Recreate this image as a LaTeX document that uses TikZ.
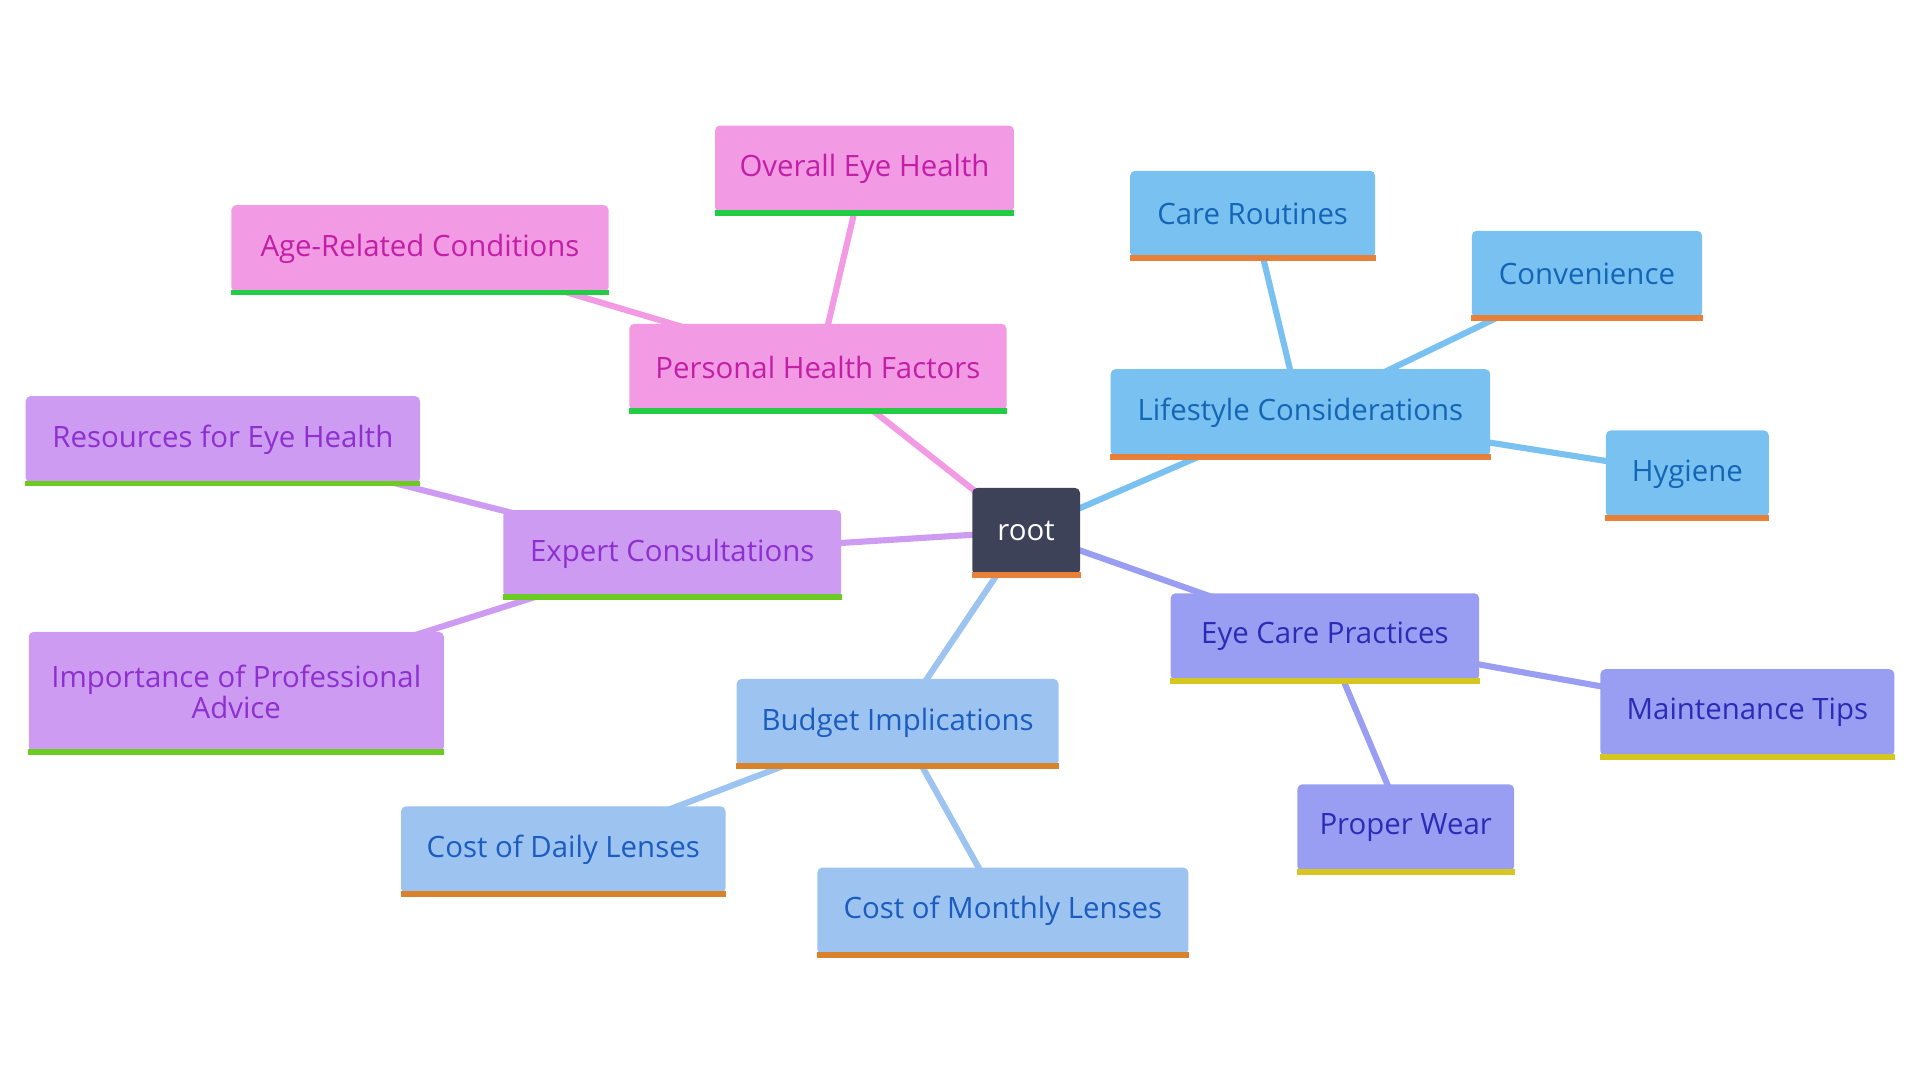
\documentclass[tikz,border=0pt]{standalone}
\usepackage{fontspec}
\setmainfont{Open Sans}
\usetikzlibrary{backgrounds}
\definecolor{pinkfill}{HTML}{F29AE3}\definecolor{pinktext}{HTML}{C21FA6}\definecolor{greenbar}{HTML}{22CC44}
\definecolor{skyfill}{HTML}{79C1F1}\definecolor{skytext}{HTML}{1465B5}\definecolor{orangebar}{HTML}{E8803A}
\definecolor{lilfill}{HTML}{CD9CF2}\definecolor{liltext}{HTML}{8E2FCF}\definecolor{limebar}{HTML}{6CCB22}
\definecolor{perifill}{HTML}{9A9EF2}\definecolor{peritext}{HTML}{2B2BB5}\definecolor{yellowbar}{HTML}{D6C622}
\definecolor{budfill}{HTML}{9DC3F0}\definecolor{budtext}{HTML}{1A5CBF}\definecolor{budbar}{HTML}{D8822C}
\definecolor{rootfill}{HTML}{3E4259}
\tikzset{
    x=0.5pt, y=-0.5pt,
    topic/.style={rounded corners=2pt, inner sep=0pt, minimum height=35.5pt, align=center, font=\fontsize{12}{13}\selectfont},
    link/.style={line width=2.5pt},
}
% box with coloured bottom bar: name, position, width, fill, bar, text colour, text
\newcommand{\mmnode}[8][35.5pt]{%
  \node[topic, minimum height=#1, minimum width=#4*0.5pt, fill=#5, text=#7] (#2) at #3 {#8};
  \fill[#6] ([yshift=1.2pt]#2.south west) rectangle ([yshift=-1.2pt]#2.south east);
}
\begin{document}
\begin{tikzpicture}
\useasboundingbox (0,0) rectangle (1568,882);
\mmnode{root}{(838,434)}{88}{rootfill}{orangebar}{white}{root}
\mmnode{phf}{(668,300)}{308}{pinkfill}{greenbar}{pinktext}{Personal Health Factors}
\mmnode{oeh}{(706,138)}{244}{pinkfill}{greenbar}{pinktext}{Overall Eye Health}
\mmnode{arc}{(343,203)}{308}{pinkfill}{greenbar}{pinktext}{Age-Related Conditions}
\mmnode{lc}{(1062,337)}{310}{skyfill}{orangebar}{skytext}{Lifestyle Considerations}
\mmnode{cr}{(1023,175)}{200}{skyfill}{orangebar}{skytext}{Care Routines}
\mmnode{conv}{(1296,224)}{188}{skyfill}{orangebar}{skytext}{Convenience}
\mmnode{hyg}{(1378,387)}{133}{skyfill}{orangebar}{skytext}{Hygiene}
\mmnode{ec}{(549,452)}{276}{lilfill}{limebar}{liltext}{Expert Consultations}
\mmnode{reh}{(182,359)}{322}{lilfill}{limebar}{liltext}{Resources for Eye Health}
\mmnode[49pt]{ipa}{(193,565)}{339}{lilfill}{limebar}{liltext}{Importance of Professional\\Advice}
\mmnode{ecp}{(1082,520)}{252}{perifill}{yellowbar}{peritext}{Eye Care Practices}
\mmnode{mt}{(1427,582)}{240}{perifill}{yellowbar}{peritext}{Maintenance Tips}
\mmnode{pw}{(1148,676)}{177}{perifill}{yellowbar}{peritext}{Proper Wear}
\mmnode{bi}{(733,590)}{263}{budfill}{budbar}{budtext}{Budget Implications}
\mmnode{cdl}{(460,694)}{265}{budfill}{budbar}{budtext}{Cost of Daily Lenses}
\mmnode{cml}{(819,744)}{303}{budfill}{budbar}{budtext}{Cost of Monthly Lenses}
\begin{scope}[on background layer]
\draw[link, pinkfill] (root.center) -- (phf.center) (phf.center) -- (oeh.center) (phf.center) -- (arc.center);
\draw[link, skyfill] (root.center) -- (lc.center) (lc.center) -- (cr.center) (lc.center) -- (conv.center) (lc.center) -- (hyg.center);
\draw[link, lilfill] (root.center) -- (ec.center) (ec.center) -- (reh.center) (ec.center) -- (ipa.center);
\draw[link, perifill] (root.center) -- (ecp.center) (ecp.center) -- (mt.center) (ecp.center) -- (pw.center);
\draw[link, budfill] (root.center) -- (bi.center) (bi.center) -- (cdl.center) (bi.center) -- (cml.center);
\end{scope}
\end{tikzpicture}
\end{document}
